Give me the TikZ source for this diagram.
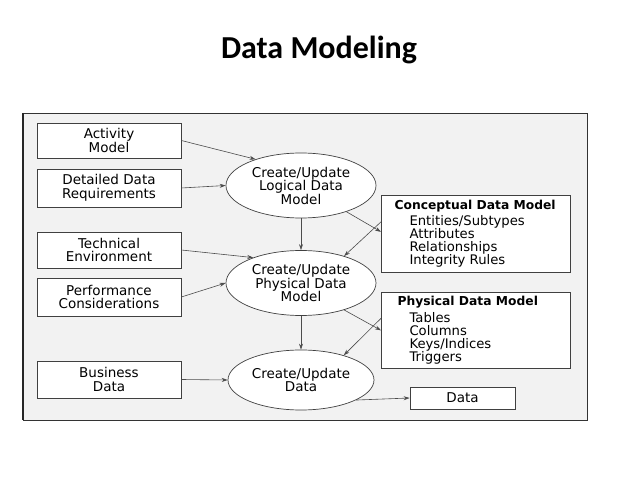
\documentclass[tikz,border=0pt]{standalone}
\usepackage{fontspec}
\setmainfont{DejaVu Sans}
\newfontfamily\titlefont{Carlito}
\usetikzlibrary{arrows.meta,shapes.geometric}
\begin{document}
\begin{tikzpicture}[x=1pt,y=-1pt,
  box/.style={draw=black!75,fill=white,line width=0.7pt,align=center,font=\fontsize{13.5}{13.5}\selectfont,inner sep=0pt},
  ell/.style={draw=black!75,fill=white,line width=0.7pt,ellipse,align=center,font=\fontsize{13.5}{13.5}\selectfont,inner sep=0pt},
  arr/.style={-{Stealth[length=6pt,width=4pt]},draw=black!70,line width=0.6pt}]
\useasboundingbox (0,0) rectangle (638,478);
\node[font=\titlefont\bfseries\fontsize{32}{34}\selectfont] (title) at (319,50) {Data Modeling};
\draw[fill=black!5,draw=black!80,line width=0.8pt] (23,113) rectangle (587,420);
\draw[black!85,line width=2pt] (23,113) -- (23,420);
\node[box,minimum width=144pt,minimum height=35pt] (am) at (109,140.5) {Activity\\Model};
\node[box,minimum width=144pt,minimum height=38pt] (ddr) at (109,188) {Detailed Data\\Requirements};
\node[box,minimum width=144pt,minimum height=36pt] (te) at (109,250) {Technical\\Environment};
\node[box,minimum width=144pt,minimum height=38pt] (pc) at (109,297) {Performance\\Considerations};
\node[box,minimum width=144pt,minimum height=37pt] (bd) at (109,379.5) {Business\\Data};
\node[ell,minimum width=150pt,minimum height=65pt] (lg) at (301,185.5) {Create/Update\\Logical Data\\Model};
\node[ell,minimum width=150pt,minimum height=65pt] (ph) at (301,283) {Create/Update\\Physical Data\\Model};
\node[ell,minimum width=146pt,minimum height=60pt] (cd) at (301,380) {Create/Update\\Data};
\node[box,minimum width=189pt,minimum height=77pt,anchor=north west] (cdm) at (381,195) {};
\node[anchor=north west,font=\fontsize{12.3}{13}\selectfont\bfseries] (cdmh) at (391,197) {Conceptual Data Model};
\node[anchor=north west,align=left,font=\fontsize{13.2}{13}\selectfont] (cdml) at (406,212) {Entities/Subtypes\\Attributes\\Relationships\\Integrity Rules};
\node[box,minimum width=189pt,minimum height=76pt,anchor=north west] (pdm) at (381,292) {};
\node[anchor=north west,font=\fontsize{12.3}{13}\selectfont\bfseries] (pdmh) at (394,293) {Physical Data Model};
\node[anchor=north west,align=left,font=\fontsize{13.2}{13}\selectfont] (pdml) at (406,309) {Tables\\Columns\\Keys/Indices\\Triggers};
\node[box,minimum width=105pt,minimum height=22pt] (db) at (462.5,398) {Data};
\draw[arr] (am.east) -- (lg.150);
\draw[arr] (ddr.east) -- (lg.west);
\draw[arr] (lg.south) -- (ph.north);
\draw[arr] (lg.-30) -- ([yshift=2pt]cdm.west);
\draw[arr] ([yshift=12pt]cdm.west) -- (ph.32);
\draw[arr] (te.east) -- (ph.152);
\draw[arr] (pc.east) -- (ph.west);
\draw[arr] (ph.-32) -- (pdm.west);
\draw[arr] ([yshift=12pt]pdm.west) -- (cd.30);
\draw[arr] (ph.south) -- (cd.north);
\draw[arr] (bd.east) -- (cd.west);
\draw[arr] (cd.-20) -- (db.west);
\end{tikzpicture}
\end{document}
